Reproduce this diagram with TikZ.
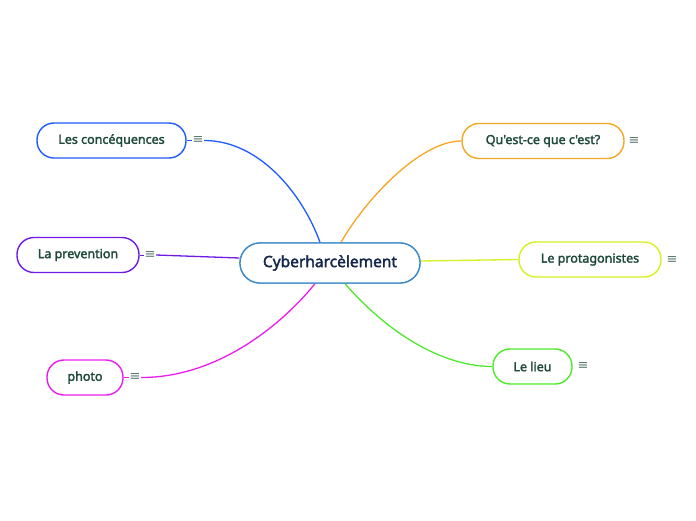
\documentclass[tikz,border=0pt]{standalone}
\usepackage{fontspec}
\setmainfont{Noto Sans}
\newfontfamily\semib{Noto Sans}[UprightFont=*, FakeBold=2.2, BoldFont=*, BoldFeatures={FakeBold=2.2}]
\newfontfamily\iconfont{DejaVu Sans}
\definecolor{ctrborder}{HTML}{3A89C9}
\definecolor{ctrtext}{HTML}{14284B}
\definecolor{txt}{HTML}{1F4A3A}
\definecolor{icon}{HTML}{5A7A6E}
\definecolor{cblue}{HTML}{1E5BFF}
\definecolor{corange}{HTML}{F5A623}
\definecolor{cpurple}{HTML}{6F1BE8}
\definecolor{cyellow}{HTML}{D4F01E}
\definecolor{cmagenta}{HTML}{EE1BEE}
\definecolor{cgreen}{HTML}{4CEB2A}
\tikzset{
  x=1pt, y=-1pt,
  branch/.style={draw=#1, line width=1.4pt, rounded corners=17pt, fill=white,
    text=txt, font=\semib\bfseries\fontsize{12.5}{14}\selectfont, inner sep=0pt, minimum height=35pt},
  centre/.style={draw=ctrborder, line width=1.3pt, rounded corners=20pt, fill=white,
    text=ctrtext, font=\semib\bfseries\fontsize{15.5}{18}\selectfont, inner sep=0pt, minimum height=40pt, minimum width=180pt},
  ico/.style={text=icon, font=\iconfont\fontsize{13}{13}\selectfont, fill=white, inner sep=0.5pt},
  conn/.style={draw=#1, line width=1.3pt},
}
\begin{document}
\begin{tikzpicture}
\useasboundingbox (0,0) rectangle (696,520);
\node[centre] (c) at (330,263) {Cyberharcèlement};

\node[branch=cblue, minimum width=149pt] (a) at (111.5,140.5) {Les concéquences};
\node[branch=corange, minimum width=162pt] (b) at (543,141) {Qu{\char"27}est-ce que c{\char"27}est?};
\node[branch=cpurple, minimum width=122pt] (d) at (78,255) {La prevention};
\node[branch=cyellow, minimum width=142pt] (e) at (590,259.5) {Le protagonistes};
\node[branch=cmagenta, minimum width=76pt] (f) at (85,377.5) {photo};
\node[branch=cgreen, minimum width=79pt] (g) at (532.5,366.5) {Le lieu};

\node[ico] (ia) at (198,140.5) {≡};
\node[ico] (ib) at (634,141) {≡};
\node[ico] (id) at (150,255) {≡};
\node[ico] (ie) at (672,260) {≡};
\node[ico] (if) at (135,377.5) {≡};
\node[ico] (ig) at (583,366.5) {≡};

\draw[conn=cblue, line width=0.8pt] (a.east) -- (ia.west);
\draw[conn=cblue] (ia.east) .. controls (260,140.5) and (303,195) .. ([xshift=-10pt]c.north);
\draw[conn=corange] ([xshift=11pt]c.north) .. controls (365,200) and (420,141) .. (b.west);
\draw[conn=cpurple, line width=0.8pt] (d.east) -- (id.west);
\draw[conn=cpurple] (id.east) -- ([yshift=5pt]c.west);
\draw[conn=cyellow] ([yshift=2pt]c.east) -- (e.west);
\draw[conn=cmagenta, line width=0.8pt] (f.east) -- (if.west);
\draw[conn=cmagenta] (if.east) .. controls (225,377.5) and (290,315) .. ([xshift=-15pt]c.south);
\draw[conn=cgreen] ([xshift=15pt]c.south) .. controls (385,330) and (440,366.5) .. (g.west);

\node[centre] at (c) {Cyberharcèlement};
\end{tikzpicture}
\end{document}
